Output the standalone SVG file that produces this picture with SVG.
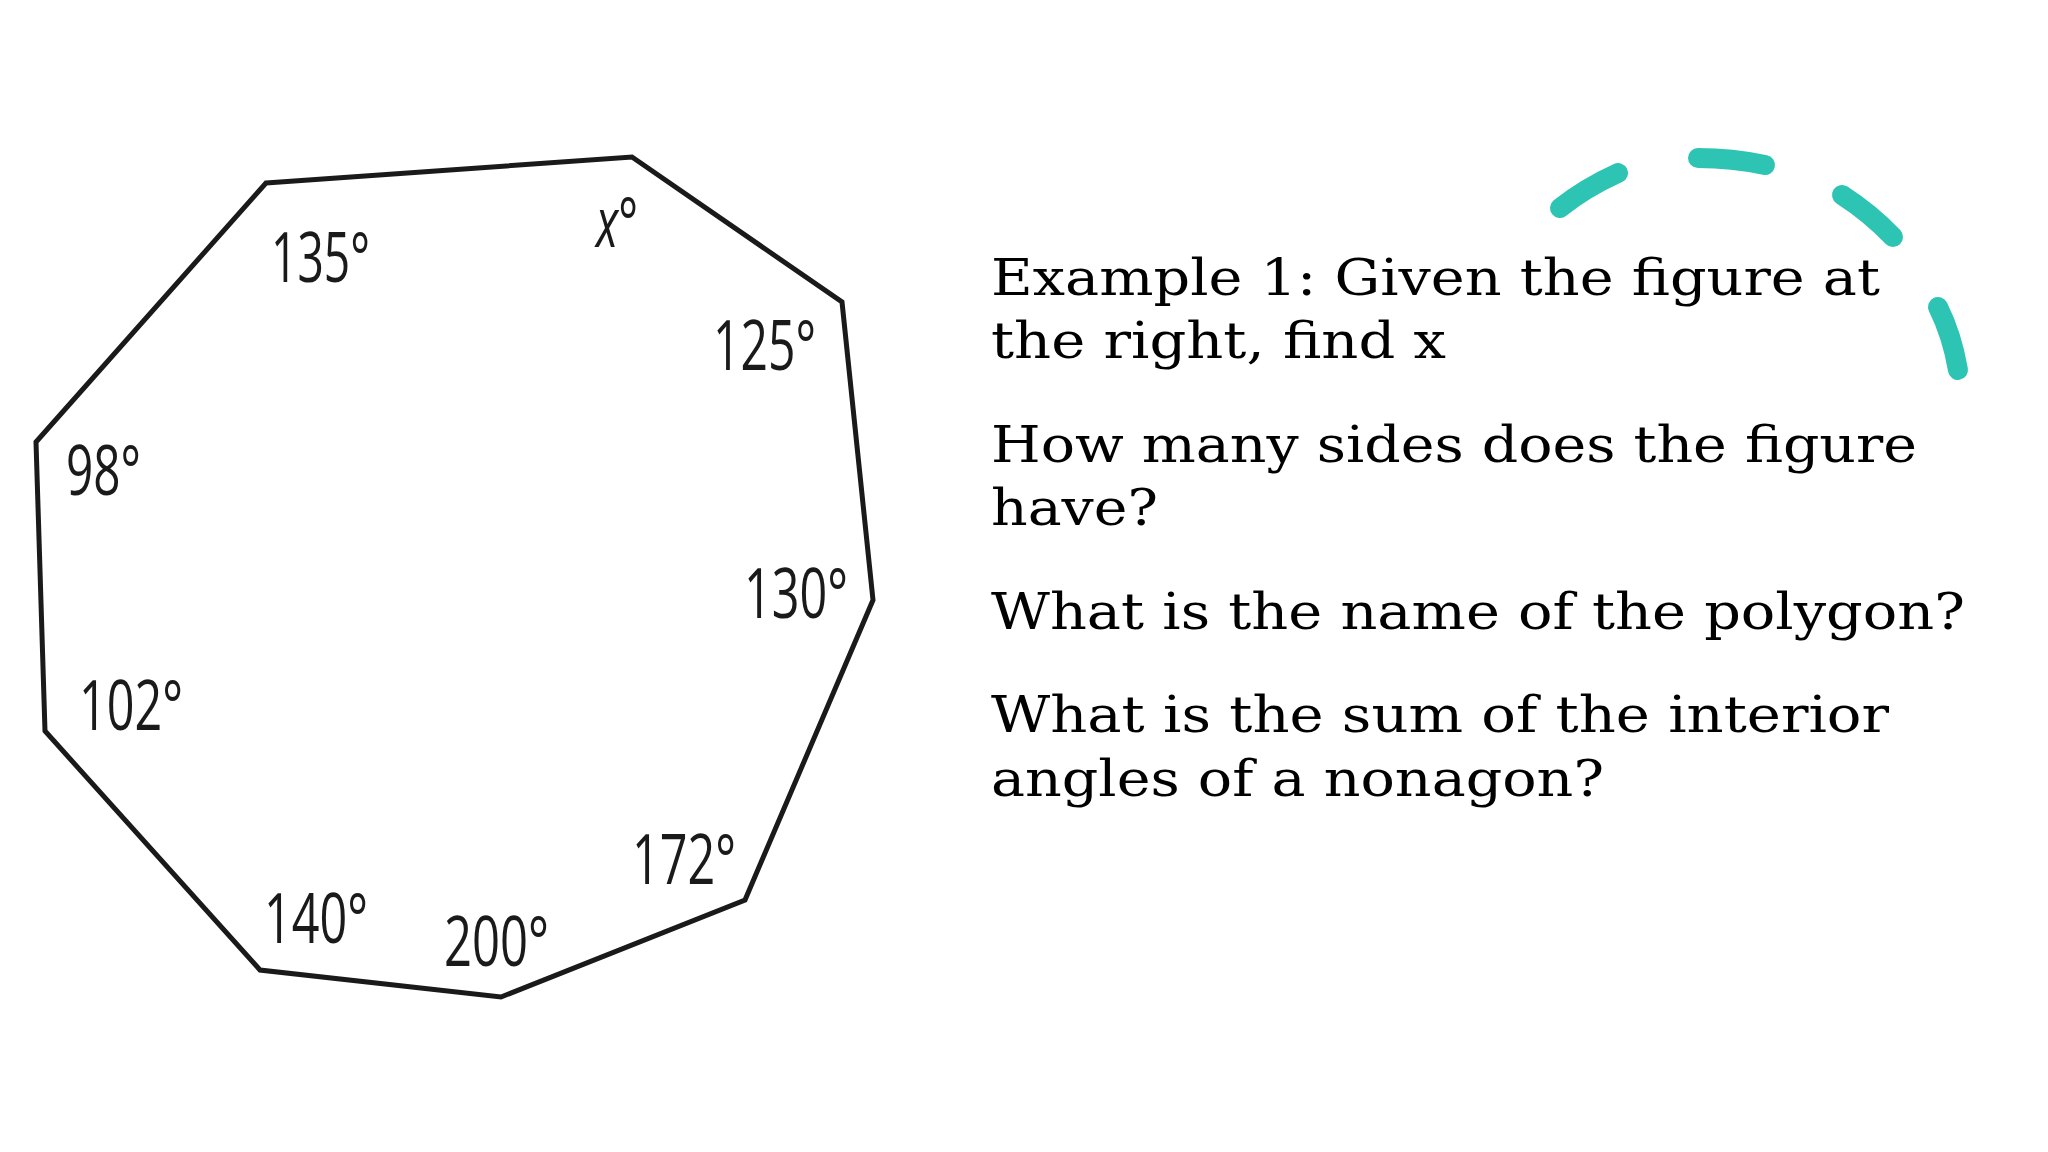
<svg xmlns="http://www.w3.org/2000/svg" width="2048" height="1152" viewBox="0 0 2048 1152">
<style>
.ang{font-family:"Open Sans","DejaVu Sans",sans-serif;font-size:69px;fill:#1a1a1a}
.q{font-family:"DejaVu Serif","Liberation Serif",serif;font-size:51px;fill:#000}
.dash{fill:none;stroke:#2ec4b4;stroke-width:20;stroke-linecap:round}
</style>
<rect width="2048" height="1152" fill="#fff"/>
<g id="nonagon">
<polygon points="266,183 632,157 842,302 873,600 745,900 501,997 260,970 45,731 36,442" fill="none" stroke="#1a1a1a" stroke-width="5" stroke-linejoin="miter"/>
</g>
<g id="angle-labels">
<text class="ang" x="271" y="282" textLength="99" lengthAdjust="spacingAndGlyphs">135°</text>
<text class="ang" x="596" y="247" textLength="42" lengthAdjust="spacingAndGlyphs" font-style="italic">x°</text>
<text class="ang" x="713" y="370" textLength="103" lengthAdjust="spacingAndGlyphs">125°</text>
<text class="ang" x="66" y="495" textLength="75" lengthAdjust="spacingAndGlyphs">98°</text>
<text class="ang" x="744" y="618" textLength="104" lengthAdjust="spacingAndGlyphs">130°</text>
<text class="ang" x="79" y="730" textLength="104" lengthAdjust="spacingAndGlyphs">102°</text>
<text class="ang" x="632" y="884" textLength="104" lengthAdjust="spacingAndGlyphs">172°</text>
<text class="ang" x="264" y="943" textLength="104" lengthAdjust="spacingAndGlyphs">140°</text>
<text class="ang" x="444" y="966" textLength="105" lengthAdjust="spacingAndGlyphs">200°</text>
</g>
<g id="questions">
<text class="q" x="991" y="295" textLength="889" lengthAdjust="spacingAndGlyphs">Example 1: Given the figure at</text>
<text class="q" x="991" y="358" textLength="455" lengthAdjust="spacingAndGlyphs">the right, find x</text>
<text class="q" x="991" y="462" textLength="926" lengthAdjust="spacingAndGlyphs">How many sides does the figure</text>
<text class="q" x="991" y="525" textLength="167" lengthAdjust="spacingAndGlyphs">have?</text>
<text class="q" x="991" y="629" textLength="974" lengthAdjust="spacingAndGlyphs">What is the name of the polygon?</text>
<text class="q" x="991" y="732" textLength="898" lengthAdjust="spacingAndGlyphs">What is the sum of the interior</text>
<text class="q" x="991" y="796" textLength="613" lengthAdjust="spacingAndGlyphs">angles of a nonagon?</text>
</g>
<g id="teal-arc">
<path class="dash" d="M1560,208 Q1585,188 1618,173"/>
<path class="dash" d="M1698,158 Q1732,158 1765,165"/>
<path class="dash" d="M1842,195 Q1870,213 1893,237"/>
<path class="dash" d="M1938,307 Q1952,335 1958,370"/>
</g>
</svg>
